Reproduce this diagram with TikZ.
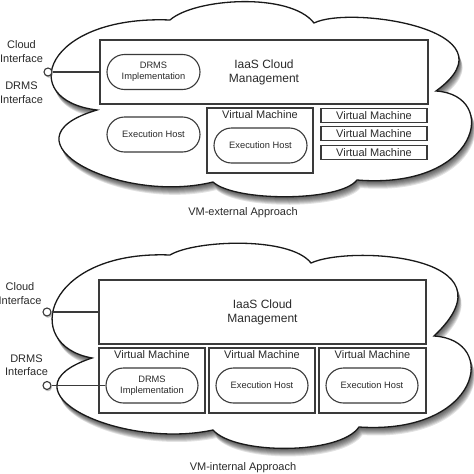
\documentclass[tikz,border=0pt]{standalone}
\usepackage{fontspec}
\setmainfont{Liberation Sans}
\usetikzlibrary{shapes.misc,shadows}
\definecolor{ln}{HTML}{3A3A3A}
\definecolor{tx}{HTML}{2A2A2A}
\newcommand\cloudpathA{(170,20) .. controls (195,-2) and (290,-8) .. (314,23)
  .. controls (350,5) and (520,30) .. (436,91)
  .. controls (500,95) and (480,190) .. (357,180)
  .. controls (340,202) and (235,202) .. (213,182)
  .. controls (120,205) and (-5,140) .. (97,110)
  .. controls (15,100) and (45,15) .. (170,20) -- cycle}
\newcommand\cloudpathB{(170,255) .. controls (195,240) and (290,236) .. (311,263)
  .. controls (350,245) and (520,255) .. (434,336)
  .. controls (500,340) and (480,435) .. (359,427)
  .. controls (340,455) and (235,455) .. (213,430)
  .. controls (120,450) and (-5,390) .. (92,358)
  .. controls (20,345) and (45,250) .. (170,255) -- cycle}
\tikzset{
  cloudline/.style={draw=black!90, line width=1.3pt, fill=white},
  sbox/.style={draw=ln, line width=1.2pt, inner sep=0pt, align=center, text=tx, font=\fontsize{12}{14}\selectfont},
  vmbox/.style={draw=ln, line width=1.2pt, inner sep=0pt, text=tx, font=\fontsize{11}{13}\selectfont},
  pill/.style={rounded rectangle, draw=ln, line width=1.1pt, minimum width=93pt, minimum height=35pt, inner sep=0pt, align=center, text=tx, font=\fontsize{9.3}{11}\selectfont},
  vmlabel/.style={text=tx, font=\fontsize{11}{13}\selectfont, inner sep=0pt},
  port/.style={circle, draw=ln, fill=white, line width=1.1pt, minimum size=8pt, inner sep=0pt,
    drop shadow={shadow xshift=1pt, shadow yshift=-1.8pt, opacity=0.4, fill=black!60}},
  lbl/.style={text=tx, align=center, font=\fontsize{11}{13.5}\selectfont, inner sep=0pt},
  conn/.style={draw=ln, line width=1.1pt},
}
\begin{document}
\begin{tikzpicture}[x=1pt,y=-1pt]
\useasboundingbox[fill=white] (0,0) rectangle (474,474);
% shadows
\foreach \d in {1,...,8}{
  \fill[black,opacity=0.11,shift={(0.45*\d,\d)}] \cloudpathA;
  \fill[black,opacity=0.11,shift={(0.45*\d,\d)}] \cloudpathB;
}
\path[cloudline] \cloudpathA;
\path[cloudline] \cloudpathB;

% ---------- top: VM-external ----------
\node[sbox, minimum width=328pt, minimum height=64pt] (iaasT) at (264,72) {IaaS Cloud\\Management};
\node[pill] (drmsT) at (153.5,72) {DRMS\\Implementation};
\node[pill] (ehT1) at (153.5,134.5) {Execution Host};
\node[vmbox, minimum width=106pt, minimum height=65pt] (vmT) at (260,140.5) {};
\node[vmlabel, anchor=north] (vmTl) at ([yshift=-3pt]vmT.north) {Virtual Machine};
\node[pill] (ehT2) at (260.5,145.5) {Execution Host};
\node[vmbox, minimum width=106pt, minimum height=14.5pt] (vmT1) at (374,115.5) {Virtual Machine};
\node[vmbox, minimum width=106pt, minimum height=14pt] (vmT2) at (374,133.8) {Virtual Machine};
\node[vmbox, minimum width=106pt, minimum height=14pt] (vmT3) at (374,152.3) {Virtual Machine};
\node[port] (cT) at (48,72) {};
\draw[conn] (cT) -- (iaasT);
\node[lbl] (lCT) at (21.5,51.5) {Cloud\\Interface};
\node[lbl] (lDT) at (21.5,92.5) {DRMS\\Interface};
\node[lbl] (capT) at (243,213) {VM-external Approach};

% ---------- bottom: VM-internal ----------
\node[sbox, minimum width=327pt, minimum height=64pt] (iaasB) at (262.5,312) {IaaS Cloud\\Management};
\node[vmbox, minimum width=106pt, minimum height=65pt] (vmB1) at (152,380.5) {};
\node[vmbox, minimum width=106pt, minimum height=65pt] (vmB2) at (262,380.5) {};
\node[vmbox, minimum width=107pt, minimum height=65pt] (vmB3) at (372.5,380.5) {};
\node[vmlabel, anchor=north] (vmB1l) at ([yshift=-3pt]vmB1.north) {Virtual Machine};
\node[vmlabel, anchor=north] (vmB2l) at ([yshift=-3pt]vmB2.north) {Virtual Machine};
\node[vmlabel, anchor=north] (vmB3l) at ([yshift=-3pt]vmB3.north) {Virtual Machine};
\node[pill, minimum width=92pt] (drmsB) at (152,385.5) {DRMS\\Implementation};
\node[pill, minimum width=92pt] (ehB2) at (262,385.5) {Execution Host};
\node[pill, minimum width=92pt] (ehB3) at (372,385.5) {Execution Host};
\node[port] (cB1) at (47,312) {};
\node[port] (cB2) at (47,385.5) {};
\draw[conn] (cB1) -- (iaasB);
\draw[conn] (cB2) -- (drmsB);
\node[lbl] (lCB) at (20,293.5) {Cloud\\Interface};
\node[lbl] (lDB) at (26.5,365) {DRMS\\Interface};
\node[lbl] (capB) at (243,468) {VM-internal Approach};
\end{tikzpicture}
\end{document}
